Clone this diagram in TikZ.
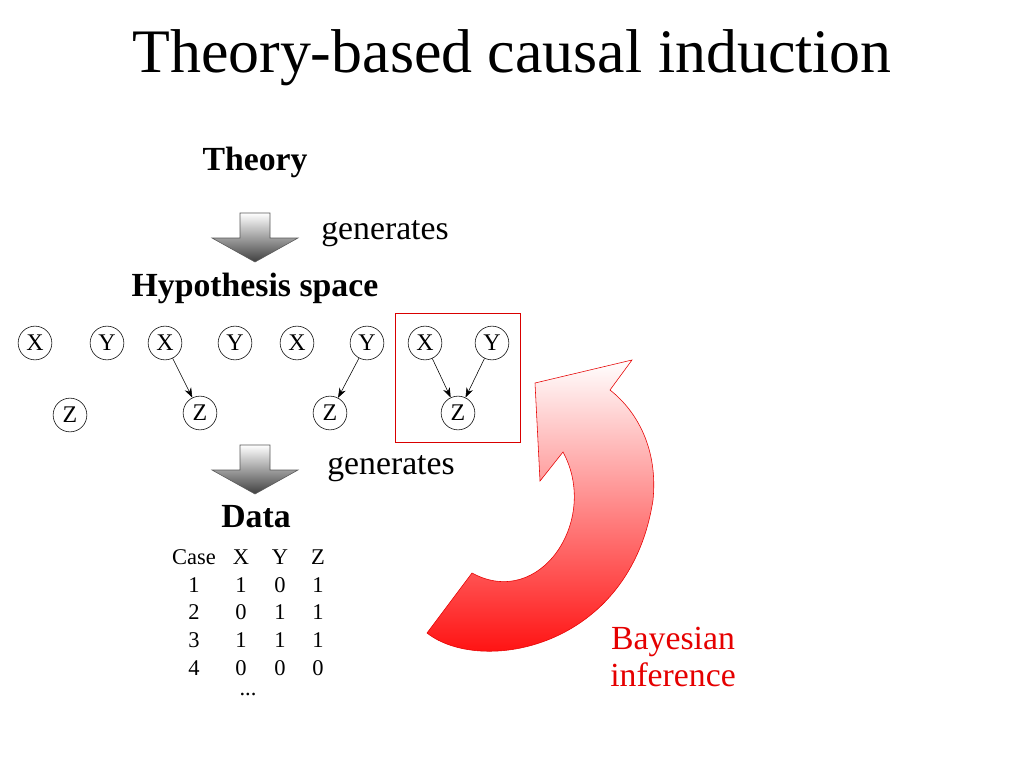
\documentclass[tikz,border=0pt]{standalone}
\usepackage{fontspec}
\setmainfont{Liberation Serif}
\usetikzlibrary{arrows.meta}
\newcommand{\genarrow}[1]{\draw[gray!70!black, top color=white, bottom color=black!75] (240,#1)--(270,#1)--(270,#1+25)--(298,#1+25)--(255,#1+49)--(212,#1+25)--(240,#1+25)--cycle;}
\tikzset{var/.style={draw, circle, minimum size=24pt, inner sep=0pt, font=\fontsize{17}{17}\selectfont},
         edge/.style={-{Stealth[length=7pt,width=5pt]}, thin}}

\begin{document}
\begin{tikzpicture}[x=0.025cm, y=-0.025cm]
            \useasboundingbox (0,0) rectangle (1024,768);

            \node[font=\fontsize{44}{44}\selectfont] at (512,58) {Theory-based causal induction};
            \node[font=\fontsize{24}{24}\selectfont\bfseries] at (255,162) {Theory};
            \node[font=\fontsize{24}{24}\selectfont] at (385,234) {generates};
            \node[font=\fontsize{24}{24}\selectfont\bfseries] at (255,288) {Hypothesis space};
            \node[font=\fontsize{24}{24}\selectfont] at (391,469) {generates};
            \node[font=\fontsize{24}{24}\selectfont\bfseries] at (256,517) {Data};

            \genarrow{213}
            \genarrow{445}

            % hypotheses
            \node[var] (x1) at (35,343) {X};
            \node[var] (y1) at (107,343) {Y};
            \node[var] (z1) at (70,415) {Z};
            \node[var] (x2) at (165,343) {X};
            \node[var] (y2) at (235,343) {Y};
            \node[var] (z2) at (200,413) {Z};
            \node[var] (x3) at (297,343) {X};
            \node[var] (y3) at (367,343) {Y};
            \node[var] (z3) at (330,413) {Z};
            \node[var] (x4) at (425,343) {X};
            \node[var] (y4) at (492,343) {Y};
            \node[var] (z4) at (458,413) {Z};
            \draw[edge] (x2) -- (z2);
            \draw[edge] (y3) -- (z3);
            \draw[edge] (x4) -- (z4);
            \draw[edge] (y4) -- (z4);
            \draw[red!85!black] (395,313) rectangle (520,442);

            % data table
            \foreach \c/\x in {Case/194,X/241,Y/280,Z/318}
                \node[font=\fontsize{16}{16}\selectfont] at (\x,557) {\c};
            \foreach \r/\a/\b/\d [count=\i] in {1/1/0/1,2/0/1/1,3/1/1/1,4/0/0/0}{
                \node[font=\fontsize{16}{16}\selectfont] at (194,557+27.7*\i) {\r};
                \node[font=\fontsize{16}{16}\selectfont] at (241,557+27.7*\i) {\a};
                \node[font=\fontsize{16}{16}\selectfont] at (280,557+27.7*\i) {\b};
                \node[font=\fontsize{16}{16}\selectfont] at (318,557+27.7*\i) {\d};
            }
            \node[font=\fontsize{16}{16}\selectfont] at (248,694) {...};

            % inference arrow
            \draw[red!90!black, top color=white, bottom color=red] (427,633)
                .. controls (480,675) and (630,650) .. (653,500)
                .. controls (658,450) and (638,412) .. (610,390)
                -- (632,360) -- (535,383) -- (540,481) -- (563,452)
                .. controls (600,520) and (540,610) .. (472,573) -- cycle;
            \node[red!90!black, font=\fontsize{24}{26}\selectfont, align=center] at (673,657) {Bayesian\\inference};
        \end{tikzpicture}
\end{document}
